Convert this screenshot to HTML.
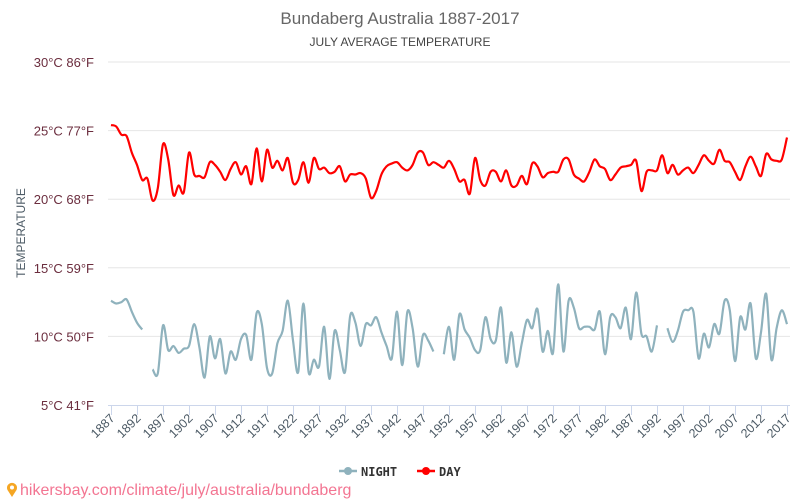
<!DOCTYPE html>
<html><head><meta charset="utf-8">
<style>
html,body{margin:0;padding:0;background:#fff;width:800px;height:500px;overflow:hidden;font-family:"Liberation Sans",sans-serif;}
svg{display:block}
</style></head>
<body>
<svg id="chart" width="800" height="500" xmlns="http://www.w3.org/2000/svg">
<text x="400" y="24" text-anchor="middle" font-size="17" fill="#666">Bundaberg Australia 1887-2017</text>
<text x="400" y="46" text-anchor="middle" font-size="12" fill="#444">JULY AVERAGE TEMPERATURE</text>
<text transform="translate(25,233) rotate(-90)" text-anchor="middle" font-size="12" fill="#4d5b66">TEMPERATURE</text>
<g id="grid"></g>
<g id="yl"></g>
<g id="xl"></g>
<g id="series"></g>
<g>
<g>
<line x1="339" y1="471" x2="357" y2="471" stroke="#8fb2bd" stroke-width="2.5"/>
<circle cx="348" cy="471" r="4" fill="#8fb2bd"/>
<text x="361" y="476" font-family="'DejaVu Sans Mono',monospace" font-weight="bold" font-size="12" fill="#333">NIGHT</text>
</g>
<g>
<line x1="417" y1="471" x2="435" y2="471" stroke="#ff0000" stroke-width="2.5"/>
<circle cx="426" cy="471" r="4" fill="#ff0000"/>
<text x="439" y="476" font-family="'DejaVu Sans Mono',monospace" font-weight="bold" font-size="12" fill="#333">DAY</text>
</g>
</g>
<g>
<path d="M12 497 L7.5 490 A5 5 0 1 1 16.5 490 Z" fill="#f5a623"/>
<circle cx="12" cy="487.5" r="2" fill="#fff"/>
<text x="20" y="495" font-size="16" fill="#f37592">hikersbay.com/climate/july/australia/bundaberg</text>
</g>
</svg>
<script>
const years=[];for(let y=1887;y<=2017;y++)years.push(y);
const yTicks=[5,10,15,20,25,30];
const yTickLabels=["5°C 41°F","10°C 50°F","15°C 59°F","20°C 68°F","25°C 77°F","30°C 86°F"];
const xTickYears=[1887,1892,1897,1902,1907,1912,1917,1922,1927,1932,1937,1942,1947,1952,1957,1962,1967,1972,1977,1982,1987,1992,1997,2002,2007,2012,2017];
const dayTemps=[25.4,25.3,24.7,24.6,23.4,22.5,21.4,21.5,19.9,20.8,24.0,22.9,20.3,21.0,20.5,23.4,21.8,21.7,21.6,22.7,22.5,22.0,21.4,22.2,22.7,21.8,22.4,21.1,23.7,21.3,23.6,22.3,22.8,22.1,23.0,21.2,21.4,22.7,21.2,23.0,22.2,22.3,21.9,
22.0,22.4,21.3,21.8,21.8,21.9,21.5,20.1,20.6,21.8,22.4,22.6,22.7,22.3,22.1,22.5,23.4,23.4,22.5,22.7,22.5,22.3,22.8,22.2,21.3,21.4,20.4,23.0,21.4,21.0,22.0,22.0,21.3,22.1,21.0,21.0,21.7,21.1,22.6,22.4,21.6,21.9,22.0,22.0,22.9,22.9,
21.8,21.5,21.3,22.0,22.9,22.4,22.2,21.4,21.8,22.3,22.4,22.5,22.8,20.6,22.0,22.1,22.1,23.2,21.9,22.5,21.8,22.1,22.3,21.9,22.5,23.2,22.8,22.6,23.6,22.8,22.7,22.0,21.4,22.4,23.1,22.4,21.7,23.3,22.9,22.8,22.9,24.5];
const nightTemps=[12.6,12.4,12.5,12.7,11.8,11.0,10.5,null,7.6,7.3,10.8,9.0,9.3,8.8,9.1,9.3,10.9,9.2,7.0,10.0,8.4,9.8,7.3,8.9,8.3,9.8,10.1,8.3,11.7,10.9,7.7,7.3,9.5,10.4,12.6,9.7,7.4,12.4,7.4,8.3,7.8,10.7,6.9,10.4,9.0,
7.4,11.5,11.0,9.3,10.9,10.8,11.4,10.3,9.3,8.4,11.8,7.9,11.8,10.6,7.8,10.1,9.7,8.9,null,8.7,10.7,8.3,11.6,10.5,9.9,9.0,9.0,11.4,9.8,9.7,12.1,8.1,10.3,7.8,9.5,11.2,10.6,12.0,8.9,10.4,8.8,13.8,8.9,12.6,
12.1,10.6,10.7,10.7,10.5,11.8,8.7,11.4,11.4,10.6,12.1,9.8,13.2,10.2,10.0,8.9,10.8,null,10.6,9.6,10.4,11.8,11.9,11.8,8.4,10.2,9.2,10.9,10.2,12.6,11.9,8.2,11.4,10.5,12.4,8.4,10.3,13.1,8.3,10.6,11.9,10.9];

const NS="http://www.w3.org/2000/svg";
const X0=111,X1=787,Y5=405,PX=13.72;
function xs(yr){return X0+(yr-1887)*(X1-X0)/130;}
function ys(t){return Y5-(t-5)*PX;}
function mk(tag,attrs,parent){const e=document.createElementNS(NS,tag);for(const k in attrs)e.setAttribute(k,attrs[k]);parent.appendChild(e);return e;}
const grid=document.getElementById('grid'),yl=document.getElementById('yl'),xl=document.getElementById('xl'),ser=document.getElementById('series');
yTicks.forEach((t,i)=>{
  if(t>5){const g=mk('line',{x1:108,x2:790,y1:ys(t),y2:ys(t),stroke:'#e6e6e6','stroke-width':1},grid);
  
  }
  const tx=mk('text',{x:94,y:ys(t)+5,'text-anchor':'end','font-size':13,fill:'#6b2d3e'},yl);
  tx.textContent=yTickLabels[i];
  
  
});
const ax=mk('line',{x1:108,x2:790,y1:405.5,y2:405.5,stroke:'#ccd6eb','stroke-width':1},grid);


xTickYears.forEach(yr=>{
  const x=Math.round(xs(yr))+0.5;
  const tk=mk('line',{x1:x,x2:x,y1:405,y2:415,stroke:'#ccd6eb','stroke-width':1},xl);
  
  
  const t=mk('text',{transform:`translate(${x+4},${419}) rotate(-45)`,'text-anchor':'end','font-size':12.5,fill:'#4d5b66'},xl);
  t.textContent=yr;
  
  
});
function pathFor(vals){
  let d='';let seg=[];
  const flush=()=>{
    if(seg.length>0){
      d+=`M${seg[0][0]},${seg[0][1]}`;
      for(let i=0;i<seg.length-1;i++){
        const p0=seg[i-1]||seg[i],p1=seg[i],p2=seg[i+1],p3=seg[i+2]||seg[i+1];
        const c1x=p1[0]+(p2[0]-p0[0])/6,c1y=p1[1]+(p2[1]-p0[1])/6;
        const c2x=p2[0]-(p3[0]-p1[0])/6,c2y=p2[1]-(p3[1]-p1[1])/6;
        d+=`C${c1x.toFixed(1)},${c1y.toFixed(1)} ${c2x.toFixed(1)},${c2y.toFixed(1)} ${p2[0].toFixed(1)},${p2[1].toFixed(1)}`;
      }
    }
    seg=[];
  };
  vals.forEach((v,i)=>{if(v==null)flush();else seg.push([xs(years[i]),ys(v)]);});
  flush();return d;
}
const nl=mk('path',{d:pathFor(nightTemps),fill:'none',stroke:'#8fb2bd','stroke-width':2.2,'stroke-linejoin':'round'},ser);


const dl=mk('path',{d:pathFor(dayTemps),fill:'none',stroke:'#ff0000','stroke-width':2.2,'stroke-linejoin':'round'},ser);


</script>
</body></html>
